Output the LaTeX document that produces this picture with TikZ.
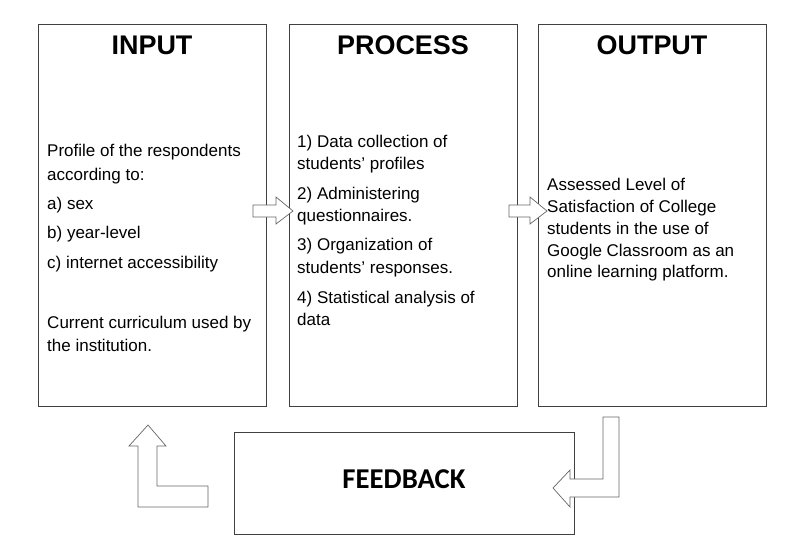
\documentclass[tikz,border=0pt]{standalone}
\usepackage{fontspec}
\setmainfont{Liberation Sans}
\newfontfamily\calfont{Carlito}
\tikzset{
  stagebox/.style={draw=black!75, line width=0.8pt},
  blockarrow/.style={draw=black!60, line width=0.6pt, fill=white, line join=miter},
  head/.style={font=\fontsize{23}{26}\selectfont\bfseries},
  body/.style={anchor=west, font=\fontsize{14.5}{16}\selectfont, inner sep=0pt,
    text height=1.5ex, text depth=0.3ex, yshift=-2.5pt}
}
\begin{document}
\begin{tikzpicture}[x=0.03cm, y=-0.03cm]
\useasboundingbox (0,0) rectangle (800,556);
% Stage boxes
\draw[stagebox] (38,24) rectangle (266,406);
\draw[stagebox] (289,24) rectangle (517,406);
\draw[stagebox] (538,24) rectangle (766,406);
\draw[stagebox] (234,432) rectangle (574,534);

% Titles
\node[head] (input) at (152,45) {INPUT};
\node[head] (process) at (403,45) {PROCESS};
\node[head] (output) at (652,45) {OUTPUT};
\node[font=\calfont\fontsize{24.5}{28}\selectfont\bfseries] (feedback) at (404,479) {FEEDBACK};

% Input text
\node[body] (in1) at (47,150) {Profile of the respondents};
\node[body] (in2) at (47,174) {according to:};
\node[body] (in3) at (47,203) {a) sex};
\node[body] (in4) at (47,232) {b) year-level};
\node[body] (in5) at (47,262) {c) internet accessibility};
\node[body] (in6) at (47,322) {Current curriculum used by};
\node[body] (in7) at (47,345) {the institution.};

% Process text
\node[body] (pr1) at (297,141) {1) Data collection of};
\node[body] (pr2) at (297,163) {students’ profiles};
\node[body] (pr3) at (297,193) {2) Administering};
\node[body] (pr4) at (297,215) {questionnaires.};
\node[body] (pr5) at (297,244) {3) Organization of};
\node[body] (pr6) at (297,267) {students’ responses.};
\node[body] (pr7) at (297,297) {4) Statistical analysis of};
\node[body] (pr8) at (297,319) {data};

% Output text
\node[body] (out1) at (547,184) {Assessed Level of};
\node[body] (out2) at (547,206) {Satisfaction of College};
\node[body] (out3) at (547,228) {students in the use of};
\node[body] (out4) at (547,250) {Google Classroom as an};
\node[body] (out5) at (547,271) {online learning platform.};

% Block arrows
\draw[blockarrow] (253,205) -- (276,205) -- (276,197) -- (293,211) -- (276,224) -- (276,217) -- (253,217) -- cycle;
\draw[blockarrow] (509,205) -- (530,205) -- (530,197) -- (547,211) -- (530,224) -- (530,217) -- (509,217) -- cycle;
\draw[blockarrow] (208,486) -- (157,486) -- (157,446) -- (166,446) -- (148,425) -- (129,446) -- (138,446) -- (138,507) -- (208,507) -- cycle;
\draw[blockarrow] (603,417) -- (619,417) -- (619,497) -- (570,497) -- (570,507) -- (553,488) -- (570,470) -- (570,479) -- (603,479) -- cycle;
\end{tikzpicture}
\end{document}
